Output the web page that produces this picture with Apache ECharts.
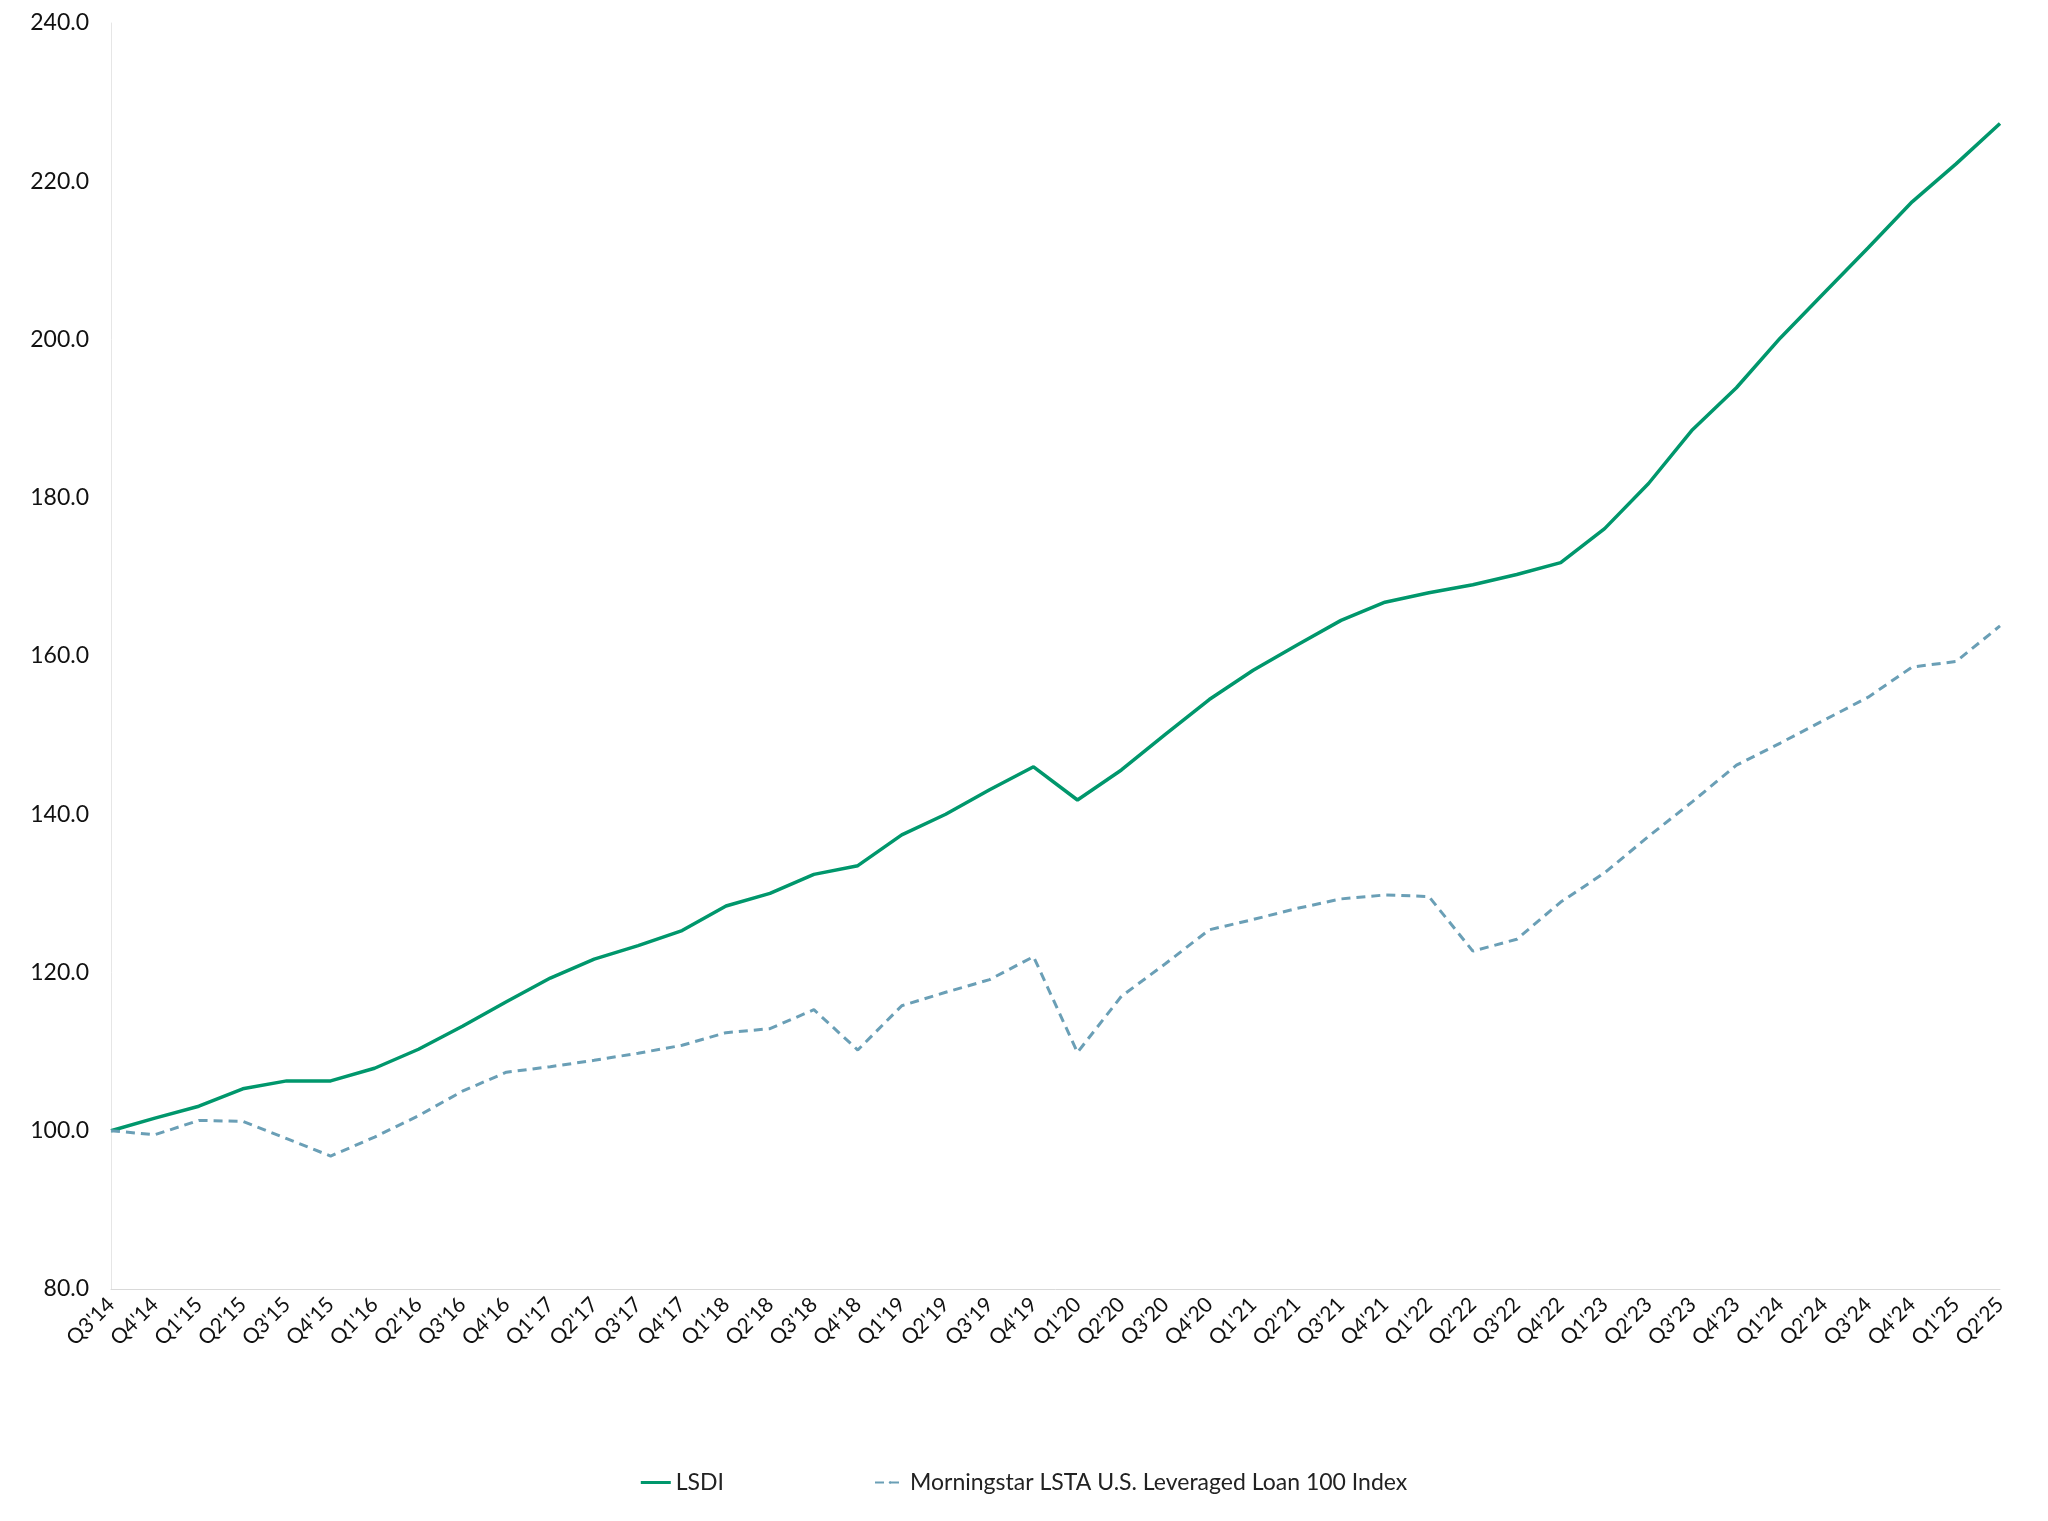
<!DOCTYPE html>
<html><head><meta charset="utf-8">
<script src="https://cdn.jsdelivr.net/npm/echarts@6/dist/echarts.min.js"></script>
<style>html,body{margin:0;padding:0;background:#fff}#c{width:2048px;height:1521px}</style>
</head><body><div id="c"></div>
<script>
const categories = [];
const years = ['14','15','16','17','18','19','20','21','22','23','24','25'];
const quartersOrder = [[3,4],[1,2,3,4],[1,2,3,4],[1,2,3,4],[1,2,3,4],[1,2,3,4],[1,2,3,4],[1,2,3,4],[1,2,3,4],[1,2,3,4],[1,2,3,4],[1,2]];
years.forEach((y,i)=>quartersOrder[i].forEach(q=>categories.push('Q'+q+"'"+y)));
const lsdi = [100,101.6,103.1,105.3,106.3,106.3,107.9,110.3,113.2,116.3,119.3,121.7,123.4,125.3,128.4,130.0,132.4,133.5,137.4,140.0,143.1,146.0,141.8,145.6,150.1,154.5,158.2,161.4,164.5,166.8,168.0,169.0,170.3,171.8,176.1,181.8,188.6,193.9,200.2,205.9,211.6,217.4,222.2,227.3];
const lsta = [100,99.5,101.3,101.2,99.0,96.8,99.2,101.9,105.0,107.4,108.1,108.9,109.8,110.8,112.4,112.9,115.3,110.2,115.8,117.5,119.1,122.0,109.9,117.0,121.1,125.4,126.7,128.1,129.3,129.8,129.6,122.7,124.2,128.9,132.6,137.2,141.6,146.2,149.0,151.9,154.8,158.6,159.3,163.8];
const seriesNames = ['LSDI','Morningstar LSTA U.S. Leveraged Loan 100 Index'];
const GREEN='#00976c', BLUE='#6a9fb6', FONT='Lato';

function withLabels(arr, specials){
  return arr.map((v,i)=> specials[i] ? {value:v, label:Object.assign({show:true},specials[i])} : v);
}
const last = lsdi.length-1;
const lsdiData = withLabels(lsdi, {
  22:{position:'top', offset:[-28,-38], color:'#111', fontSize:23, formatter:p=>p.value.toFixed(1)},
  [last]:{position:'top', offset:[0,-2], color:GREEN, fontWeight:'bold', fontSize:23, formatter:p=>p.value.toFixed(1)}
});
const lstaData = withLabels(lsta, {
  22:{position:'bottom', offset:[-28,4], color:'#111', fontSize:23, formatter:p=>p.value.toFixed(1)},
  [last]:{position:'top', offset:[0,-2], color:BLUE, fontWeight:'bold', fontSize:23, formatter:p=>p.value.toFixed(1)}
});

const chart = echarts.init(document.getElementById('c'));
chart.setOption({
  animation:false,
  textStyle:{fontFamily:FONT},
  grid:{left:111, right:48, top:23, bottom:232},
  legend:{bottom:22, left:'center', itemGap:150, itemWidth:30, itemHeight:3,
    textStyle:{fontSize:23, color:'#222', fontFamily:FONT},
    data:[{name:seriesNames[0], icon:'rect'},{name:seriesNames[1]}]},
  xAxis:{type:'category', data:categories, boundaryGap:false,
    axisLine:{lineStyle:{color:'#d9d9d9'}}, axisTick:{show:false},
    axisLabel:{rotate:45, fontSize:21, color:'#111', interval:0, margin:12}},
  yAxis:{type:'value', min:80, max:240, interval:20,
    axisLine:{show:true, lineStyle:{color:'#e6e6e6'}}, axisTick:{show:false}, splitLine:{show:false},
    axisLabel:{fontSize:23, color:'#111', formatter:v=>v.toFixed(1), margin:22}},
  series:[
    {name:seriesNames[0], type:'line', data:lsdiData, symbol:'none', lineStyle:{color:GREEN, width:3.5}, itemStyle:{color:GREEN}},
    {name:seriesNames[1], type:'line', data:lstaData, symbol:'none', lineStyle:{color:BLUE, width:3, type:[9,6]}, itemStyle:{color:BLUE}}
  ]
});
</script></body></html>
